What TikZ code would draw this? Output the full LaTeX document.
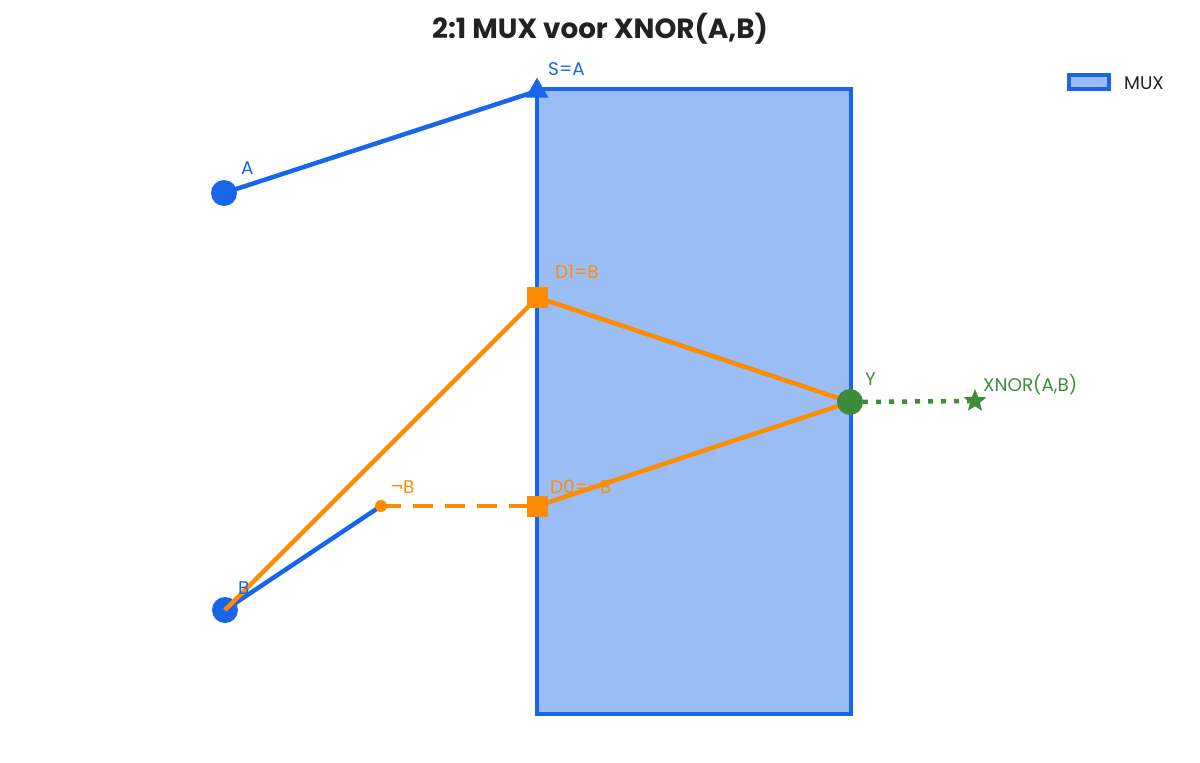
\documentclass[tikz,border=0pt]{standalone}
\usepackage{fontspec}
\setmainfont{Poppins}
\usetikzlibrary{shapes.geometric}
\definecolor{muxblue}{HTML}{1A66E8}
\definecolor{muxfill}{HTML}{9BBDF6}
\definecolor{sigorange}{HTML}{FF8C00}
\definecolor{outgreen}{HTML}{3E8B3A}
\definecolor{titlegray}{HTML}{222222}
\tikzset{
  wire/.style={line width=4.5pt},
  lbl/.style={anchor=base west, inner sep=0pt, font=\fontsize{18.4}{20}\selectfont},
  dotnode/.style={circle, inner sep=0pt, minimum size=26pt},
  sqnode/.style={rectangle, inner sep=0pt, minimum size=21pt, fill=sigorange},
}
\begin{document}
\begin{tikzpicture}[x=1pt,y=-1pt]
\useasboundingbox (0,0) rectangle (1200,763);
% title
\node[anchor=base, inner sep=0pt, text=titlegray, font=\fontsize{27.8}{30}\selectfont\bfseries] (title) at (600,38) {2:1 MUX voor XNOR(A,B)};
% MUX box
\node[draw=muxblue, fill=muxfill, line width=4pt, rectangle, inner sep=0pt, minimum width=314pt, minimum height=625pt] (mux) at (694,401.5) {};
% legend
\node[draw=muxblue, fill=muxfill, line width=4pt, rectangle, inner sep=0pt, minimum width=40pt, minimum height=14pt] (legbox) at (1089,82) {};
\node[lbl, text=titlegray] (legtxt) at (1124,89) {MUX};
% points
\coordinate (Apt) at (224,193);
\coordinate (Bpt) at (225,610);
\coordinate (Spt) at (537,91);
\coordinate (D1pt) at (537.5,297.5);
\coordinate (D0pt) at (537.5,506);
\coordinate (NBpt) at (381,506);
\coordinate (Ypt) at (850,402);
\coordinate (Opt) at (975,401);
% wires
\draw[wire, muxblue] (Apt) -- (Spt);
\draw[wire, muxblue] (Bpt) -- (NBpt);
\draw[wire, sigorange, dash pattern=on 20pt off 12pt] (NBpt) -- (D0pt);
\draw[wire, outgreen, dash pattern=on 5pt off 8pt] (Ypt) -- (Opt);
\draw[wire, sigorange] (D1pt) -- (Ypt);
\draw[wire, sigorange] (D0pt) -- (Ypt);
% markers
\node[dotnode, fill=muxblue] (A) at (Apt) {};
\node[dotnode, fill=muxblue] (B) at (Bpt) {};
\draw[wire, sigorange] (B.center) -- (D1pt);
\node[isosceles triangle, isosceles triangle apex angle=60, shape border rotate=90, fill=muxblue, inner sep=0pt, minimum height=20pt] (S) at (Spt) {};
\node[sqnode] (D1) at (D1pt) {};
\node[sqnode] (D0) at (D0pt) {};
\node[circle, fill=sigorange, inner sep=0pt, minimum size=12pt] (NB) at (NBpt) {};
\node[dotnode, fill=outgreen] (Y) at (Ypt) {};
\node[star, star points=5, star point ratio=2.3, fill=outgreen, inner sep=0pt, minimum size=24pt] (O) at (Opt) {};
% labels
\node[lbl, text=muxblue] (Alab) at (241,174) {A};
\node[lbl, text=muxblue] (Blab) at (238,594) {B};
\node[lbl, text=muxblue] (Slab) at (548,75) {S=A};
\node[lbl, text=sigorange] (D1lab) at (555,278) {D1=B};
\node[lbl, text=sigorange] (D0lab) at (550,493) {D0=¬B};
\node[lbl, text=sigorange] (NBlab) at (391,493) {¬B};
\node[lbl, text=outgreen] (Ylab) at (865,385) {Y};
\node[lbl, text=outgreen] (Olab) at (983,391) {XNOR(A,B)};
\end{tikzpicture}
\end{document}
